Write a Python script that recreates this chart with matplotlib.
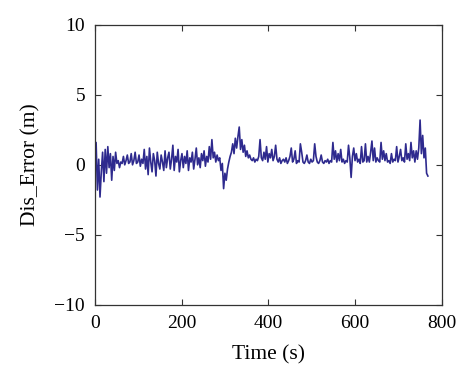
import numpy as np
import matplotlib
matplotlib.use("Agg")
import matplotlib.pyplot as plt

# distance error, one sample every 3 s
dis_error = [
    -0.3, 1.6, -1.8, 0.4, -2.3, -0.5, 0.9, -1.2, 1.1, -0.6,
    1.3, -0.2, 0.8, -1.1, 0.6, -0.4, 0.9, 0.1, 0.3, -0.2,
    0.2, 0.1, 0.6, 0.0, 0.3, 0.7, 0.1, 0.2, 0.8, 0.0,
    0.3, 0.9, 0.1, 0.2, 0.7, -0.1, 0.4, 0.1, 1.1, -0.3,
    0.6, -0.7, 1.2, 0.2, -0.5, 0.8, 0.3, -0.8, 0.9, 0.1,
    -0.3, 0.7, 0.2, -0.4, 1.0, -0.2, 0.5, 0.9, -0.3, 0.4,
    1.4, -0.4, 0.6, 0.2, 1.1, -0.5, 0.3, 0.8, -0.2, 0.6,
    0.1, 1.0, -0.4, 0.5, 0.2, 0.9, -0.3, 0.4, 1.2, 0.0,
    0.5, -0.2, 0.8, 0.3, 1.0, -0.1, 0.6, 0.2, 1.3, 0.4,
    1.8, 0.5, 0.9, 0.2, 0.7, 0.3, 0.5, -0.4, 0.1, -1.7,
    -0.6, -1.1, -0.3, 0.2, 0.6, 0.9, 1.5, 0.8, 1.9, 1.2,
    2.0, 2.7, 1.1, 1.8, 0.9, 1.4, 0.6, 1.0, 0.5, 0.7,
    0.4, 0.3, 0.5, 0.2, 0.4, 0.3, 0.6, 1.8, 0.5, 0.3,
    0.9, 0.4, 1.3, 0.2, 0.8, 0.5, 1.1, 0.3, 0.6, 1.4,
    0.4, 0.2, 0.5, 0.1, 0.3, 0.4, 0.2, 0.5, 0.1, 0.3,
    0.6, 1.2, 0.2, 0.4, 1.0, 0.1, 0.3, 0.2, 1.5, 0.9,
    0.2, 0.1, 0.3, 0.7, 0.2, 0.1, 0.4, 0.2, 0.3, 1.5,
    0.6, 0.2, 0.1, 0.3, 0.7, 0.2, 0.1, 0.3, 0.2, 0.4,
    0.1, 0.3, 0.2, 1.6, 0.4, 1.0, 0.2, 0.8, 0.3, 1.1,
    0.2, 0.4, 0.1, 0.3, 0.2, 1.4, 0.5, -0.9, 0.6, 1.2,
    0.3, 0.8, 0.2, 0.4, 0.1, 1.3, 0.2, 0.3, 1.5, 0.2,
    0.6, 0.2, 0.9, 1.7, 0.3, 1.2, 0.2, 0.5, 0.3, 0.2,
    1.6, 0.4, 1.0, 0.3, 0.8, 0.2, 0.3, 0.1, 0.8, 0.2,
    0.4, 0.3, 1.3, 0.2, 0.6, 1.1, 0.3, 0.5, 0.2, 1.5,
    0.4, 0.8, 0.3, 1.6, 0.5, 1.0, 0.2, 1.0, 0.4, 1.2,
    3.2, 0.8, 2.1, 0.5, 1.2, -0.6, -0.8,
]
time_s = np.arange(len(dis_error)) * 3

x_ticks = [0, 200, 400, 600, 800]
y_ticks = [-10, -5, 0, 5, 10]

plt.rcParams['font.family'] = ['Liberation Serif', 'DejaVu Serif']
plt.rcParams['font.size'] = 14

fig = plt.figure(figsize=(4.74, 3.82), dpi=100)
ax = fig.add_axes([0.200, 0.202, 0.732, 0.733])

ax.plot(time_s, dis_error, color='#2e2a8e', linewidth=1.2)

ax.set_xlim(0, 800)
ax.set_ylim(-10, 10)
ax.set_xticks(x_ticks)
ax.set_yticks(y_ticks)
ax.tick_params(direction='in', top=True, right=True, length=4, width=0.8,
               color='#333333', labelsize=14)
ax.tick_params(axis='x', pad=7)
ax.tick_params(axis='y', pad=7)
for s in ax.spines.values():
    s.set_color('#333333')
    s.set_linewidth(0.9)

ax.set_xlabel('Time (s)', fontsize=15.5, labelpad=10)
ax.set_ylabel('Dis_Error (m)', fontsize=15.5, labelpad=10)

fig.savefig('out.png', dpi=100)
